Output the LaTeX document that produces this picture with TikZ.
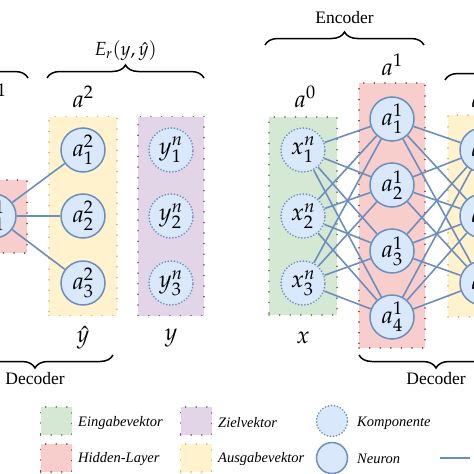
\documentclass[tikz,border=0pt]{standalone}
\usepackage{mathpazo}
\usepackage[no-math]{fontspec}
\setmainfont{Liberation Serif}
\usetikzlibrary{decorations.pathreplacing}
\definecolor{gfill}{HTML}{D5E8D4}\definecolor{gline}{HTML}{82B366}
\definecolor{rfill}{HTML}{F8CECC}\definecolor{rline}{HTML}{B85450}
\definecolor{yfill}{HTML}{FFF2CC}\definecolor{yline}{HTML}{D6B656}
\definecolor{pfill}{HTML}{E1D5E7}\definecolor{pline}{HTML}{9673A6}
\definecolor{bfill}{HTML}{DAE8FC}\definecolor{bline}{HTML}{6C8EBF}
\pgfdeclarelayer{boxes}\pgfdeclarelayer{edges}
\pgfsetlayers{boxes,edges,main}
\tikzset{
  layerbox/.style={rectangle, inner sep=0, line width=1.6pt, line cap=round, dash pattern=on 0.1pt off 10.5pt},
  gbox/.style={layerbox, fill=gfill, draw=gline!70!black},
  rbox/.style={layerbox, fill=rfill, draw=rline!80!black},
  ybox/.style={layerbox, fill=yfill, draw=yline},
  pbox/.style={layerbox, fill=pfill, draw=pline!80!black},
  neuron/.style={circle, minimum size=44pt, inner sep=0, fill=bfill, draw=bline, line width=1.5pt, font=\fontsize{24}{28}\selectfont},
  comp/.style={neuron, line cap=round, dash pattern=on 0.1pt off 3pt, line width=1.8pt},
  conn/.style={draw=bline, line width=1.6pt},
  mlabel/.style={font=\fontsize{24}{28}\selectfont, inner sep=0},
  erlabel/.style={font=\fontsize{19}{23}\selectfont, inner sep=0},
  brlabel/.style={font=\fontsize{17.5}{21}\selectfont, inner sep=0},
  brc/.style={decorate, decoration={brace, amplitude=13pt}, line width=1.5pt},
  legtext/.style={anchor=west, font=\fontsize{14.5}{17}\selectfont\itshape, inner sep=0},
}
\begin{document}
\begin{tikzpicture}[x=1pt,y=-1pt]
\useasboundingbox (0,0) rectangle (474,474);
\clip (0,0) rectangle (474,474);
% boxes
\begin{pgfonlayer}{boxes}
\node[rbox, minimum width=66pt, minimum height=73pt] (lred) at (-6,216.5) {};
\node[ybox, minimum width=68pt, minimum height=199pt] (lyel) at (83,216) {};
\node[pbox, minimum width=66pt, minimum height=199pt] (lpur) at (171,216) {};
\node[gbox, minimum width=68pt, minimum height=198pt] (rgre) at (303,216) {};
\node[rbox, minimum width=66pt, minimum height=265pt] (rred) at (392,215.5) {};
\node[ybox, minimum width=68pt, minimum height=202pt] (ryel) at (482,216) {};
\end{pgfonlayer}
% left network
\node[neuron] (la11) at (-6,216) {$a_1^1$};
\node[neuron] (la21) at (83,150) {$a_1^2$};
\node[neuron] (la22) at (83,216) {$a_2^2$};
\node[neuron] (la23) at (83,283) {$a_3^2$};
\node[comp] (ly1) at (171,150) {$y_1^n$};
\node[comp] (ly2) at (171,216) {$y_2^n$};
\node[comp] (ly3) at (171,283) {$y_3^n$};
% right network
\node[comp] (x1) at (303,150) {$x_1^n$};
\node[comp] (x2) at (303,216) {$x_2^n$};
\node[comp] (x3) at (303,283) {$x_3^n$};
\node[neuron] (h1) at (392,119) {$a_1^1$};
\node[neuron] (h2) at (392,185) {$a_2^1$};
\node[neuron] (h3) at (392,251) {$a_3^1$};
\node[neuron] (h4) at (392,317) {$a_4^1$};
\node[neuron] (o1) at (482,150) {$a_1^2$};
\node[neuron] (o2) at (482,216) {$a_2^2$};
\node[neuron] (o3) at (482,283) {$a_3^2$};
% connectors
\begin{pgfonlayer}{edges}
\foreach \k in {1,2,3} \draw[conn] (la11) -- (la2\k);
\foreach \i in {1,2,3} \foreach \j in {1,2,3,4} \draw[conn] (x\i) -- (h\j);
\foreach \j in {1,2,3,4} \foreach \k in {1,2,3} \draw[conn] (h\j) -- (o\k);
\end{pgfonlayer}
% layer labels
\node[mlabel] (lab1) at (-4,95) {$a^1$};
\node[mlabel] (lab2) at (83,97) {$a^2$};
\node[mlabel] (lab0r) at (305,97) {$a^0$};
\node[mlabel] (lab1r) at (392,65) {$a^1$};
\node[mlabel] (lab2r) at (482,97) {$a^2$};
\node[mlabel] (yhat) at (83,338) {$\hat{y}$};
\node[mlabel] (ylab) at (171,338) {$y$};
\node[mlabel] (xlab) at (303,338) {$x$};
% braces
\coordinate (b1a) at (-133,78); \coordinate (b1b) at (28,78);
\draw[brc] (b1a) -- (b1b);
\coordinate (b2a) at (47,78); \coordinate (b2b) at (204,78);
\draw[brc] (b2a) -- node[erlabel, above=16pt] (erlab) {$E_r(y,\hat{y})$} (b2b);
\coordinate (b3a) at (265,45); \coordinate (b3b) at (424,45);
\draw[brc] (b3a) -- node[brlabel, above=21pt] (enc) {Encoder} (b3b);
\coordinate (b4a) at (445,80); \coordinate (b4b) at (602,80);
\draw[brc] (b4a) -- (b4b);
\coordinate (b5a) at (113,355); \coordinate (b5b) at (-43,355);
\draw[brc] (b5a) -- node[brlabel, below=17pt] (dec1) {Decoder} (b5b);
\coordinate (b6a) at (513,355); \coordinate (b6b) at (359,355);
\draw[brc] (b6a) -- node[brlabel, below=17pt] (dec2) {Decoder} (b6b);
% legend
\node[gbox, minimum width=31pt, minimum height=28pt] (lg1) at (56,421) {};
\node[legtext] (lt1) at (78,423) {Eingabevektor};
\node[rbox, minimum width=31pt, minimum height=28pt] (lg2) at (56,458) {};
\node[legtext] (lt2) at (78,459) {Hidden-Layer};
\node[pbox, minimum width=31pt, minimum height=28pt] (lg3) at (196,421) {};
\node[legtext] (lt3) at (218,423) {Zielvektor};
\node[ybox, minimum width=31pt, minimum height=28pt] (lg4) at (196,458) {};
\node[legtext] (lt4) at (218,459) {Ausgabevektor};
\node[comp, minimum size=31pt] (lg5) at (332,421) {};
\node[legtext] (lt5) at (357,423) {Komponente};
\node[neuron, minimum size=31pt] (lg6) at (332,458) {};
\node[legtext] (lt6) at (357,459) {Neuron};
\coordinate (lg7a) at (440,458); \coordinate (lg7b) at (470,458);
\draw[conn] (lg7a) -- (lg7b);
\end{tikzpicture}
\end{document}
